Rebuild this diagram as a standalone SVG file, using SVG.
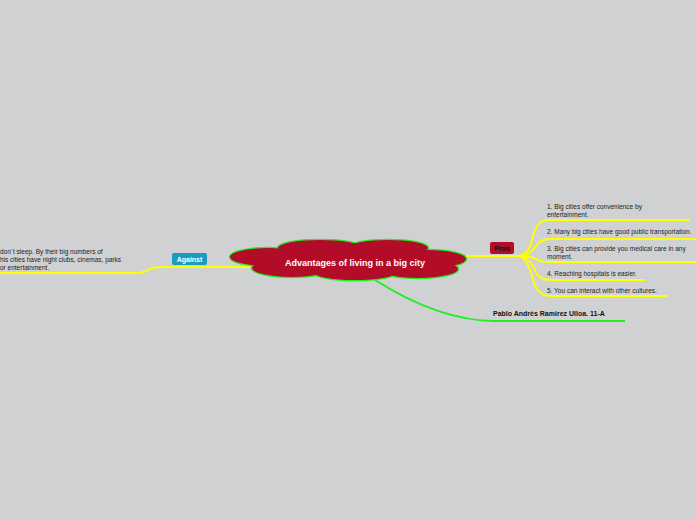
<svg xmlns="http://www.w3.org/2000/svg" width="696" height="520" viewBox="0 0 696 520">
<style>
text{font-family:"Liberation Sans",Arial,sans-serif}
.t{font-size:6.5px;fill:#222}
.y{fill:none;stroke:#ffff00;stroke-width:2}
.g{fill:none;stroke:#22ee22;stroke-width:2}
.cs{fill:#b20c28;stroke:#22ee22;stroke-width:2.5}
.cf{fill:#b20c28}
</style>
<rect width="696" height="520" fill="#d0d1d3"/>
<g id="connectors">
<path class="y" d="M250,267 H162 Q152,267 148,270 Q144,273 135,273 H0"/>
<path class="y" d="M466,256 H518"/>
<path class="y" d="M518,256 Q528,256 532,240 Q536,220 548,220 H690"/>
<path class="y" d="M518,256 Q530,256 536,246 Q540,239 550,239 H696"/>
<path class="y" d="M518,256 Q530,256 536,259 Q540,262 550,262 H696"/>
<path class="y" d="M518,256 Q528,256 534,268 Q538,280 550,280 H645"/>
<path class="y" d="M518,256 Q526,256 532,276 Q536,296 550,296 H668"/>
<path class="g" d="M375,280 Q440,321 495,321 H625"/>
</g>
<g id="central">
<ellipse class="cs" cx="268" cy="257" rx="38" ry="9"/>
<ellipse class="cs" cx="320" cy="248" rx="42" ry="8"/>
<ellipse class="cs" cx="388" cy="248" rx="40" ry="8"/>
<ellipse class="cs" cx="428" cy="259" rx="38" ry="9"/>
<ellipse class="cs" cx="292" cy="268" rx="40" ry="9"/>
<ellipse class="cs" cx="355" cy="272" rx="42" ry="8"/>
<ellipse class="cs" cx="418" cy="269" rx="40" ry="9"/>
<ellipse class="cf" cx="268" cy="257" rx="38" ry="9"/>
<ellipse class="cf" cx="320" cy="248" rx="42" ry="8"/>
<ellipse class="cf" cx="388" cy="248" rx="40" ry="8"/>
<ellipse class="cf" cx="428" cy="259" rx="38" ry="9"/>
<ellipse class="cf" cx="292" cy="268" rx="40" ry="9"/>
<ellipse class="cf" cx="355" cy="272" rx="42" ry="8"/>
<ellipse class="cf" cx="418" cy="269" rx="40" ry="9"/>
<rect class="cf" x="270" y="250" width="160" height="20"/>
<text x="355" y="266" font-size="9" font-weight="bold" fill="#fff" text-anchor="middle">Advantages of living in a big city</text>
</g>
<g id="against">
<rect x="172" y="253" width="35" height="12" rx="2" fill="#1a9cc0"/>
<text x="189.5" y="262" font-size="7" font-weight="bold" fill="#fff" text-anchor="middle">Against</text>
<text class="t" x="0" y="254">don´t sleep. By their big numbers of</text>
<text class="t" x="0" y="262">his cities have night clubs, cinemas, parks</text>
<text class="t" x="0" y="270">or entertainment.</text>
</g>
<g id="pros">
<rect x="490" y="242" width="24" height="12" rx="2" fill="#b20c28"/>
<text x="502" y="251" font-size="7" font-weight="bold" fill="#111" text-anchor="middle">Pros</text>
</g>
<g id="p1"><text class="t" x="547" y="209">1. Big cities offer convenience by</text><text class="t" x="547" y="217">entertainment.</text></g>
<g id="p2"><text class="t" x="547" y="234">2. Many big cities have good public transportation.</text></g>
<g id="p3"><text class="t" x="547" y="251">3. Big cities can provide you medical care in any</text><text class="t" x="547" y="259">moment.</text></g>
<g id="p4"><text class="t" x="547" y="276">4. Reaching hospitals is easier.</text></g>
<g id="p5"><text class="t" x="547" y="293">5. You can interact with other cultures.</text></g>
<g id="author"><text x="493" y="316" font-size="7" font-weight="bold" fill="#111">Pablo Andrés Ramirez Ulloa. 11-A</text></g>
</svg>
